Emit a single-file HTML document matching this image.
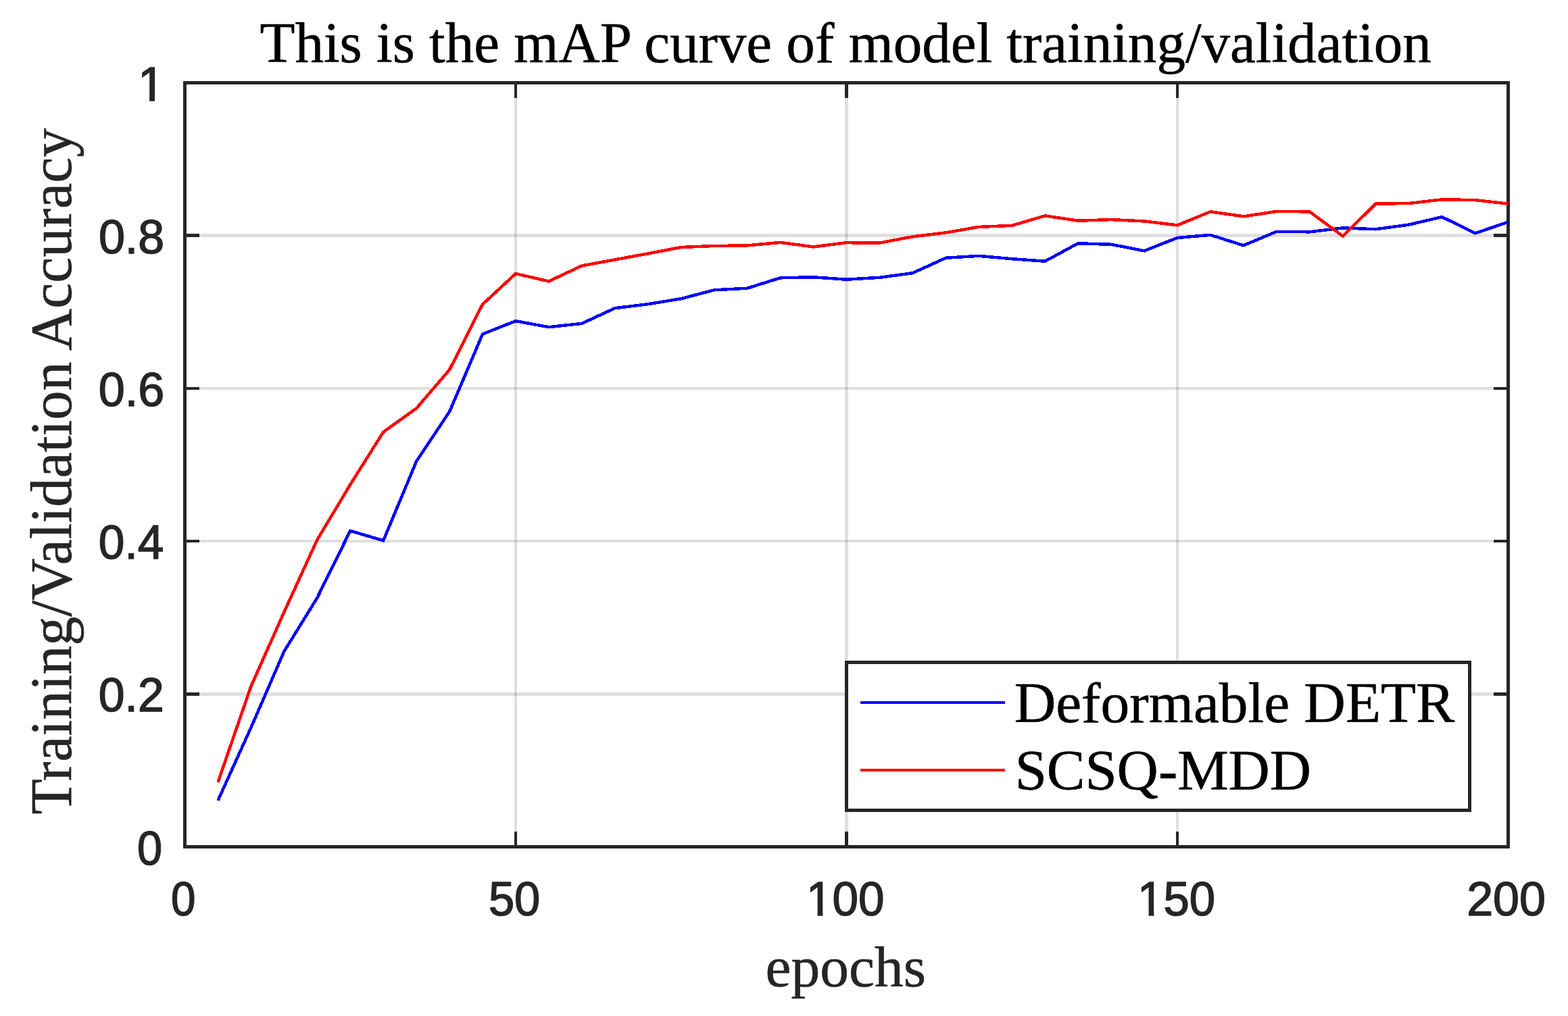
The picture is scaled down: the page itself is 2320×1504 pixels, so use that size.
<!DOCTYPE html>
<html><head><meta charset="utf-8"><title>mAP curve</title>
<style>html,body{margin:0;padding:0;background:#fff;overflow:hidden}svg{display:block}.serif{font-family:"Liberation Serif","Times New Roman",serif}.sans{font-family:"Liberation Sans",Arial,sans-serif}</style></head>
<body>
<svg width="2320" height="1504" viewBox="0 0 2320 1504">
<rect x="0" y="0" width="2320" height="1504" fill="#fff"/>
<g stroke="#262626" stroke-opacity="0.15" stroke-width="4.5" shape-rendering="crispEdges">
<line x1="763.00" y1="122.5" x2="763.00" y2="1253.5"/>
<line x1="1252.50" y1="122.5" x2="1252.50" y2="1253.5"/>
<line x1="1742.00" y1="122.5" x2="1742.00" y2="1253.5"/>
<line x1="273.5" y1="1027.30" x2="2231.5" y2="1027.30"/>
<line x1="273.5" y1="801.10" x2="2231.5" y2="801.10"/>
<line x1="273.5" y1="574.90" x2="2231.5" y2="574.90"/>
<line x1="273.5" y1="348.70" x2="2231.5" y2="348.70"/>
</g>
<g stroke="#262626" stroke-width="4.5" shape-rendering="crispEdges">
<line x1="273.5" y1="1253.5" x2="273.5" y2="1231.0"/><line x1="273.5" y1="122.5" x2="273.5" y2="145.0"/>
<line x1="763.0" y1="1253.5" x2="763.0" y2="1231.0"/><line x1="763.0" y1="122.5" x2="763.0" y2="145.0"/>
<line x1="1252.5" y1="1253.5" x2="1252.5" y2="1231.0"/><line x1="1252.5" y1="122.5" x2="1252.5" y2="145.0"/>
<line x1="1742.0" y1="1253.5" x2="1742.0" y2="1231.0"/><line x1="1742.0" y1="122.5" x2="1742.0" y2="145.0"/>
<line x1="2231.5" y1="1253.5" x2="2231.5" y2="1231.0"/><line x1="2231.5" y1="122.5" x2="2231.5" y2="145.0"/>
<line x1="273.5" y1="1253.5" x2="295.0" y2="1253.5"/><line x1="2231.5" y1="1253.5" x2="2210.0" y2="1253.5"/>
<line x1="273.5" y1="1027.3" x2="295.0" y2="1027.3"/><line x1="2231.5" y1="1027.3" x2="2210.0" y2="1027.3"/>
<line x1="273.5" y1="801.0999999999999" x2="295.0" y2="801.0999999999999"/><line x1="2231.5" y1="801.0999999999999" x2="2210.0" y2="801.0999999999999"/>
<line x1="273.5" y1="574.9" x2="295.0" y2="574.9"/><line x1="2231.5" y1="574.9" x2="2210.0" y2="574.9"/>
<line x1="273.5" y1="348.69999999999993" x2="295.0" y2="348.69999999999993"/><line x1="2231.5" y1="348.69999999999993" x2="2210.0" y2="348.69999999999993"/>
<line x1="273.5" y1="122.5" x2="295.0" y2="122.5"/><line x1="2231.5" y1="122.5" x2="2210.0" y2="122.5"/>
</g>
<rect x="273.5" y="122.5" width="1958.0" height="1131.0" fill="none" stroke="#262626" stroke-width="4.5" shape-rendering="crispEdges"/>
<g fill="none" stroke-width="4.5" stroke-linejoin="miter" shape-rendering="crispEdges">
<polyline stroke="#0000ff" points="322.45,1185.00 371.40,1077.00 420.35,964.30 469.30,885.00 518.25,785.80 567.20,800.20 616.15,682.90 665.10,609.50 714.05,494.50 763.00,475.20 811.95,484.20 860.90,478.90 909.85,456.20 958.80,450.20 1007.75,442.20 1056.70,429.30 1105.65,426.70 1154.60,411.30 1203.55,410.30 1252.50,413.70 1301.45,410.80 1350.40,404.20 1399.35,381.80 1448.30,378.80 1497.25,383.20 1546.20,386.70 1595.15,360.30 1644.10,361.80 1693.05,371.30 1742.00,352.00 1790.95,347.80 1839.90,363.30 1888.85,342.80 1937.80,343.30 1986.75,337.40 2035.70,339.30 2084.65,332.60 2133.60,321.10 2182.55,345.30 2231.50,328.70"/>
<polyline stroke="#ff0000" points="322.45,1158.00 371.40,1016.00 420.35,906.00 469.30,799.00 518.25,717.30 567.20,639.50 616.15,604.50 665.10,547.30 714.05,450.50 763.00,405.10 811.95,416.40 860.90,393.40 909.85,384.40 958.80,375.40 1007.75,366.00 1056.70,364.00 1105.65,363.40 1154.60,358.90 1203.55,365.40 1252.50,359.20 1301.45,359.60 1350.40,350.30 1399.35,344.40 1448.30,335.90 1497.25,333.90 1546.20,319.40 1595.15,326.70 1644.10,325.10 1693.05,327.40 1742.00,333.40 1790.95,313.40 1839.90,320.40 1888.85,312.90 1937.80,313.40 1986.75,349.50 2035.70,301.50 2084.65,301.10 2133.60,295.30 2182.55,296.10 2231.50,301.70"/>
</g>
<rect x="1252.5" y="980.5" width="922" height="219" fill="#fff" stroke="#262626" stroke-width="4.5" shape-rendering="crispEdges"/>
<line x1="1273" y1="1040" x2="1487" y2="1040" stroke="#0000ff" stroke-width="4.5" shape-rendering="crispEdges"/>
<line x1="1273" y1="1140" x2="1487" y2="1140" stroke="#ff0000" stroke-width="4.5" shape-rendering="crispEdges"/>
<text class="serif" x="384.50" y="92.10" font-size="85.074" fill="#000" stroke="#000" stroke-width="0.6">This is the mAP curve of model training/validation</text>
<text class="serif" x="1500.64" y="1069.00" font-size="85.325" fill="#000" stroke="#000" stroke-width="0.6">Deformable DETR</text>
<text class="serif" x="1501.69" y="1169.00" font-size="84.837" fill="#000" stroke="#000" stroke-width="0.6">SCSQ-MDD</text>
<text class="serif" x="1132.58" y="1459.80" font-size="85.481" fill="#262626" stroke="#262626" stroke-width="0.6">epochs</text>
<text class="serif" transform="translate(105.0 1205.62) rotate(-90)" x="0" y="0" font-size="85.943" fill="#262626" stroke="#262626" stroke-width="0.6">Training/Validation Accuracy</text>
<defs><clipPath id="c1" clipPathUnits="userSpaceOnUse"><rect x="-50" y="-200" width="1200" height="190"/><rect x="24.0" y="-10" width="11.1" height="60"/><rect x="55.6" y="-10" width="1000" height="60"/></clipPath></defs>
<text class="sans" transform="matrix(0.71429 0 0 0.71237 203.96 148.94)" font-size="100" fill="#262626" stroke="#262626" stroke-width="2.103" clip-path="url(#c1)">1</text>
<text class="sans" transform="matrix(0.69981 0 0 0.71237 145.95 375.39)" font-size="100" fill="#262626" stroke="#262626" stroke-width="2.124">0.8</text>
<text class="sans" transform="matrix(0.70192 0 0 0.71237 145.84 601.39)" font-size="100" fill="#262626" stroke="#262626" stroke-width="2.121">0.6</text>
<text class="sans" transform="matrix(0.69394 0 0 0.71237 145.87 827.44)" font-size="100" fill="#262626" stroke="#262626" stroke-width="2.133">0.4</text>
<text class="sans" transform="matrix(0.69692 0 0 0.71237 145.86 1053.44)" font-size="100" fill="#262626" stroke="#262626" stroke-width="2.129">0.2</text>
<text class="sans" transform="matrix(0.66597 0 0 0.71237 202.99 1279.64)" font-size="100" fill="#262626" stroke="#262626" stroke-width="2.177">0</text>
<text class="sans" transform="matrix(0.65550 0 0 0.71237 253.03 1355.44)" font-size="100" fill="#262626" stroke="#262626" stroke-width="2.193">0</text>
<text class="sans" transform="matrix(0.68668 0 0 0.71237 722.90 1355.44)" font-size="100" fill="#262626" stroke="#262626" stroke-width="2.144">50</text>
<text class="sans" transform="matrix(0.69251 0 0 0.71237 1193.07 1355.44)" font-size="100" fill="#262626" stroke="#262626" stroke-width="2.135" clip-path="url(#c1)">100</text>
<text class="sans" transform="matrix(0.68860 0 0 0.71237 1683.11 1355.44)" font-size="100" fill="#262626" stroke="#262626" stroke-width="2.141" clip-path="url(#c1)">150</text>
<text class="sans" transform="matrix(0.70063 0 0 0.71237 2170.15 1355.44)" font-size="100" fill="#262626" stroke="#262626" stroke-width="2.123">200</text>
</svg>
</body></html>
